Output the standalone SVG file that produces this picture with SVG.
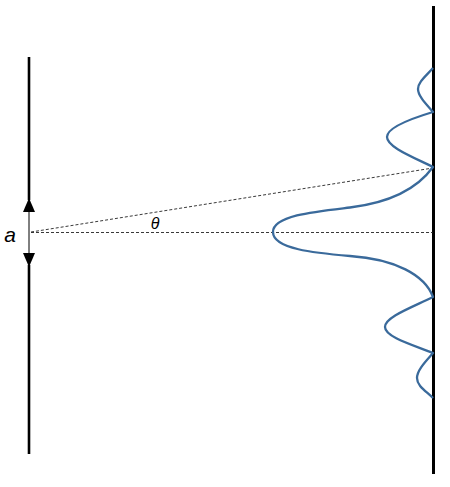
<svg xmlns="http://www.w3.org/2000/svg" width="450" height="487" viewBox="0 0 450 487">
<style>
.bar{stroke:#000;stroke-width:2.6;fill:none}
.dash{stroke:#222;stroke-width:0.9;stroke-dasharray:3,2;fill:none}
.curve{stroke:#3a6a9b;stroke-width:2.3;fill:none;stroke-linejoin:round}
.lbl{font-family:"Liberation Sans",Arial,sans-serif;font-style:italic;fill:#000}
</style>
<g id="slit-barrier">
<line class="bar" x1="29" y1="57" x2="29" y2="200"/>
<line class="bar" x1="29" y1="265" x2="29" y2="454"/>
</g>
<g id="screen">
<line x1="433.5" y1="6" x2="433.5" y2="474" stroke="#000" stroke-width="3"/>
</g>
<g id="connectors">
<line class="dash" x1="31" y1="232.5" x2="433" y2="232.5"/>
<line class="dash" x1="31" y1="232" x2="433" y2="168"/>
<line x1="29" y1="211" x2="29" y2="254" stroke="#000" stroke-width="1"/>
<polygon points="29,198 23,212 35,212" fill="#000"/>
<polygon points="29,267 23,253 35,253" fill="#000"/>
</g>
<g id="intensity">
<path class="curve" d="M433,68 C426,76 418,82 418,89 C418,96 426,104 433,112 C413,118 387,127 387,137 C387,147 413,157 433,167 C420,185 395,202 350,207.5 C320,211 273,215 273,232 C273,249 315,253 350,256 C395,259 425,275 433,297 C413,307 385,317 385,327 C385,337 413,345 433,353 C426,361 417,370 417,378 C417,386 426,391 433,398"/>
</g>
<g id="label-a"><text class="lbl" x="10" y="242" font-size="21" text-anchor="middle">a</text></g>
<g id="label-theta"><text class="lbl" x="155" y="229" font-size="16" text-anchor="middle">θ</text></g>
</svg>
